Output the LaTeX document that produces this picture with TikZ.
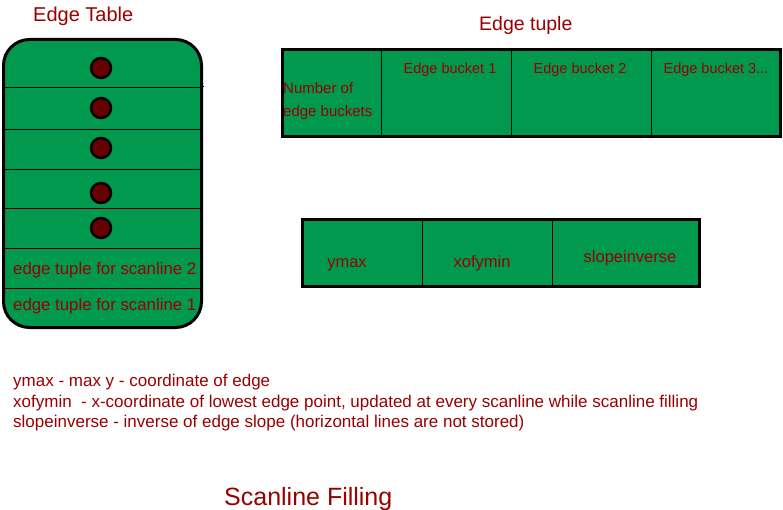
\documentclass[tikz,border=0pt]{standalone}
\usepackage{fontspec}
\setmainfont{Liberation Sans}
\definecolor{gfgreen}{RGB}{0,153,78}
\definecolor{txtred}{RGB}{153,0,0}
\definecolor{dotred}{RGB}{102,0,0}
\tikzset{
  lbl/.style={inner sep=0pt, text=txtred},
  dotmark/.style={circle, draw=black, line width=2.5pt, fill=dotred, minimum size=20pt, inner sep=0pt},
  frame/.style={draw=black, line width=3pt, fill=gfgreen},
  divider/.style={draw=black, line width=1pt},
}
\newcommand{\fs}[1]{\fontsize{#1}{#1}\selectfont}
\begin{document}
\begin{tikzpicture}[x=1pt,y=-1pt]
\useasboundingbox (0,0) rectangle (783,510);
% Edge table
\draw[frame, rounded corners=26pt] (3.5,39.5) rectangle (201.5,327.5);
\foreach \yy in {88,130,170,209,249,288} {\draw[divider] (3.5,\yy) -- (201.5,\yy);}
\draw[divider] (201.5,87) -- (204,87);
\node[dotmark] (d1) at (101,68) {};
\node[dotmark] (d2) at (101,108) {};
\node[dotmark] (d3) at (101,148) {};
\node[dotmark] (d4) at (101,193) {};
\node[dotmark] (d5) at (101,228) {};
\node[lbl, anchor=base west] (et) at (33,22) {\fs{20}Edge Table};
\node[lbl, anchor=base west] (s2) at (13,274) {\fs{16.8}edge tuple for scanline 2};
\node[lbl, anchor=base west] (s1) at (13,310) {\fs{16.8}edge tuple for scanline 1};
% Edge tuple
\node[lbl, anchor=base west] (etup) at (479,31) {\fs{19.5}Edge tuple};
\draw[frame] (282.5,49.5) rectangle (780.5,136.5);
\foreach \xx in {381,511,651} {\draw[divider] (\xx,49.5) -- (\xx,136.5);}
\node[lbl, anchor=base west] (nb1) at (283,94) {\fs{15}Number of};
\node[lbl, anchor=base west] (nb2) at (283,117) {\fs{15}edge buckets};
\node[lbl, anchor=base] (eb1) at (450,74) {\fs{14.5}Edge bucket 1};
\node[lbl, anchor=base] (eb2) at (580,74) {\fs{14.5}Edge bucket 2};
\node[lbl, anchor=base] (eb3) at (716,74) {\fs{14.5}Edge bucket 3...};
% Bucket
\draw[frame] (302.5,219.5) rectangle (699.5,286.5);
\foreach \xx in {422,552} {\draw[divider] (\xx,219.5) -- (\xx,286.5);}
\node[lbl, anchor=base] (ym) at (347,267) {\fs{16.5}ymax};
\node[lbl, anchor=base] (xm) at (482,267) {\fs{16.5}xofymin};
\node[lbl, anchor=base] (si) at (630,262) {\fs{16.5}slopeinverse};
% Legend
\node[lbl, anchor=base west] (l1) at (13,386) {\fs{17}ymax - max y - coordinate of edge};
\node[lbl, anchor=base west] (l2) at (13,407) {\fs{17}xofymin\ \ - x-coordinate of lowest edge point, updated at every scanline while scanline filling};
\node[lbl, anchor=base west] (l3) at (13,427) {\fs{17}slopeinverse - inverse of edge slope (horizontal lines are not stored)};
\node[lbl, anchor=base west] (title) at (224,505) {\fs{25}Scanline Filling};
\end{tikzpicture}
\end{document}
